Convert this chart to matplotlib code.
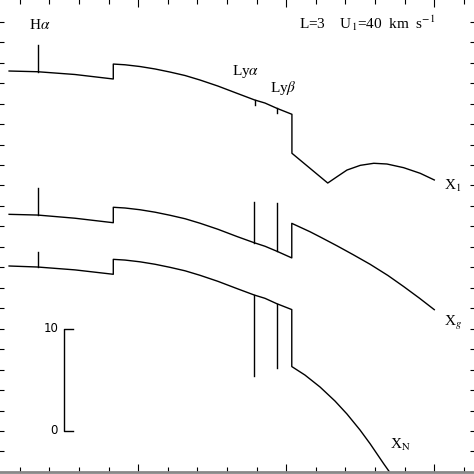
import matplotlib
matplotlib.use("Agg")
import matplotlib.pyplot as plt
import numpy as np

plt.rcParams['font.family'] = ['Liberation Serif', 'DejaVu Serif']
plt.rcParams['mathtext.fontset'] = 'stix'

# ---- data (arbitrary units; y scale bar shows 10 units) ----
x1_x = [0.127, 0.320, 0.572, 0.831, 0.831, 0.910, 1.011, 1.113, 1.214, 1.316, 1.417, 1.538, 1.667,
        1.786, 1.856, 1.937, 2.038, 2.038, 2.280, 2.343, 2.410, 2.500, 2.591, 2.680, 2.793, 2.905, 3.000]
x1_y = [35.19, 35.12, 34.85, 34.41, 35.87, 35.80, 35.63, 35.39, 35.09, 34.75, 34.31, 33.72, 33.01,
        32.36, 32.06, 31.54, 30.96, 27.15, 24.24, 24.86, 25.51, 25.97, 26.17, 26.10, 25.74, 25.19, 24.54]

xg_x = [0.127, 0.320, 0.572, 0.831, 0.831, 0.910, 1.011, 1.113, 1.214, 1.316, 1.417, 1.538, 1.667,
        1.784, 1.856, 1.935, 2.037, 2.037, 2.160, 2.230, 2.343, 2.450, 2.566, 2.687, 2.793, 2.900, 3.000]
xg_y = [21.18, 21.11, 20.80, 20.36, 21.87, 21.80, 21.63, 21.39, 21.09, 20.75, 20.31, 19.72, 19.01,
        18.40, 18.06, 17.58, 16.92, 20.30, 19.48, 18.96, 18.10, 17.25, 16.30, 15.20, 14.12, 12.98, 11.86]

xn_x = [0.127, 0.320, 0.572, 0.831, 0.831, 0.910, 1.011, 1.113, 1.214, 1.316, 1.417, 1.538, 1.667,
        1.784, 1.856, 1.935, 2.037, 2.037, 2.126, 2.228, 2.329, 2.410, 2.498, 2.566, 2.658, 2.726]
xn_y = [16.13, 16.03, 15.75, 15.32, 16.78, 16.71, 16.54, 16.30, 16.00, 15.66, 15.22, 14.63, 13.92,
        13.29, 12.97, 12.45, 11.87, 6.30, 5.47, 4.30, 2.93, 1.66, 0.10, -1.24, -3.20, -4.59]

# line marks: (x, y_start, y_end)
halpha_marks = [(0.320, 35.12, 37.70), (0.320, 21.11, 23.72), (0.320, 16.03, 17.50)]
ly_marks = [(1.786, 32.36, 31.90), (1.937, 31.54, 31.08),
            (1.784, 18.40, 22.41), (1.935, 17.58, 22.26),
            (1.784, 13.29, 5.38), (1.935, 12.45, 6.13)]

fig = plt.figure(figsize=(4.74, 4.74), dpi=100)
ax = fig.add_axes([-1/474, 2/474, 476/474, 473/474])

lw = 1.0
ax.plot(x1_x, x1_y, color='black', lw=lw)
ax.plot(xg_x, xg_y, color='black', lw=lw)
ax.plot(xn_x, xn_y, color='black', lw=lw)
for x, a, b in halpha_marks + ly_marks:
    ax.plot([x, x], [a, b], color='black', lw=lw)

# scale bar
ax.plot([0.557, 0.500, 0.500, 0.557], [10, 10, 0, 0], color='black', lw=lw)
ax.text(0.459, 10, '10', ha='right', va='center', fontsize=8.5, family='DejaVu Sans')
ax.text(0.452, 0, '0', ha='right', va='center', fontsize=8.5, family='DejaVu Sans')

fs = 11
ax.text(0.336, 39.7, r'H$\alpha$', ha='center', va='center', fontsize=fs)
ax.text(1.728, 35.1, r'Ly$\alpha$', ha='center', va='center', fontsize=fs)
ax.text(1.981, 33.5, r'Ly$\beta$', ha='center', va='center', fontsize=fs)
ax.text(2.084, 39.9, r'L=3    U$_1$=40  km  s$^{-1}$', ha='left', va='center', fontsize=fs)
ax.text(3.064, 24.0, r'X$_1$', ha='left', va='center', fontsize=fs)
ax.text(3.064, 10.6, r'X$_g$', ha='left', va='center', fontsize=fs)
ax.text(2.703, -1.4, r'X$_{\rm N}$', ha='left', va='center', fontsize=fs)

ax.set_xlim(0.0588, 3.275)
ax.set_ylim(-4.008, 42.23)
ax.set_xticks([1, 2, 3])
ax.set_xticks(np.arange(0.2, 3.3, 0.2), minor=True)
ax.set_yticks(np.arange(-2, 42, 2))
ax.tick_params(which='both', direction='in', top=True, right=True,
               labelbottom=False, labelleft=False, color='black', width=0.8)
ax.tick_params(which='major', axis='x', length=6)
ax.tick_params(which='minor', axis='x', length=3.5)
ax.tick_params(which='major', axis='y', length=3.5)
for side in ['left', 'right', 'top']:
    ax.spines[side].set_visible(False)
ax.spines['bottom'].set_color('#888888')
ax.spines['bottom'].set_linewidth(2.0)

fig.savefig('out.png', dpi=100)
